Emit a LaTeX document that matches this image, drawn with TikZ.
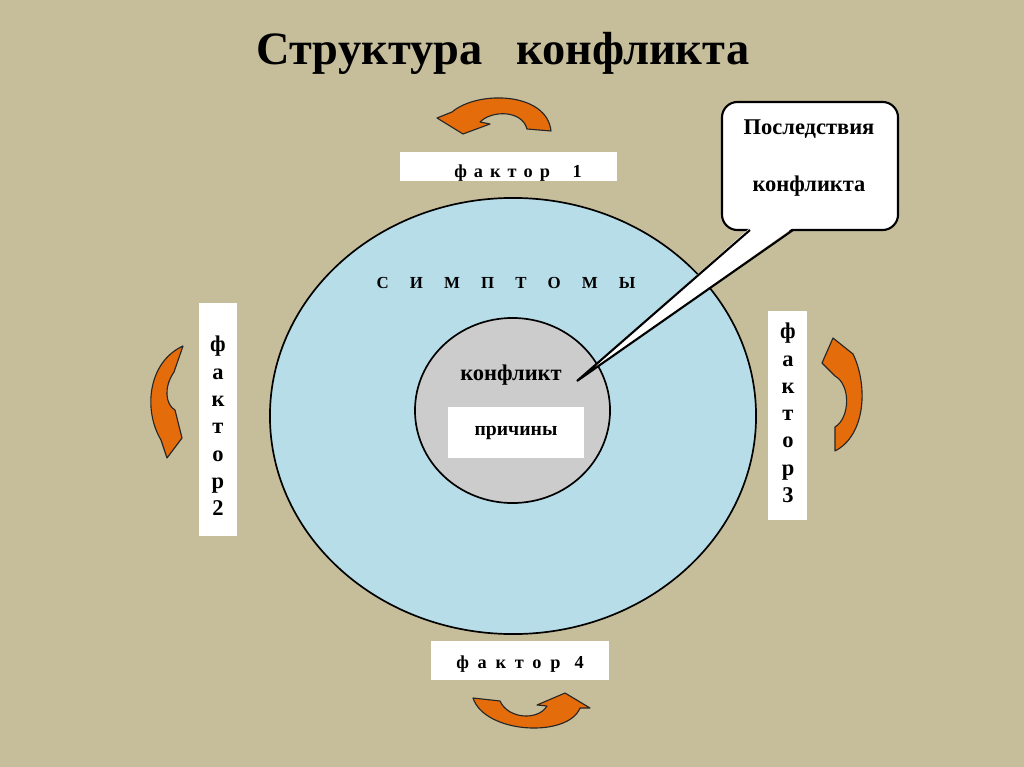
\documentclass[tikz,border=0pt]{standalone}
\usepackage{fontspec}
\setmainfont{Liberation Serif}
\usetikzlibrary{shapes.geometric}

\definecolor{slidebg}{RGB}{198,190,154}
\definecolor{symblue}{RGB}{183,221,232}
\definecolor{coregrey}{RGB}{204,204,204}
\definecolor{turnorange}{RGB}{228,108,10}

\newcommand{\wordgap}[1]{\spaceskip=#1\relax}

\begin{document}
\begin{tikzpicture}[x=0.025cm, y=-0.025cm,
    titletext/.style={font=\bfseries\fontsize{33}{39}\selectfont, anchor=base, inner sep=0pt},
    bodytext/.style={font=\bfseries\fontsize{16}{19}\selectfont, anchor=base, inner sep=0pt},
    factorbox/.style={fill=white, inner sep=0pt},
    vtext/.style={font=\bfseries\fontsize{16}{19.4}\selectfont, align=center, inner sep=0pt},
    turn/.style={fill=turnorange, draw=black!85, line width=0.8pt, line join=round}]

    % Background
    \fill[slidebg] (0,0) rectangle (1024,767);
    \useasboundingbox (0,0) rectangle (1024,767);

    % Title
    \node[titletext] (title) at (503,65) {Структура\hspace{24pt}конфликта};

    % Draw circles
    \node[ellipse, draw, fill=symblue, line width=1.2pt, minimum width=12.15cm, minimum height=10.9cm] (symptoms) at (513,416) {};
    \node[ellipse, draw, fill=coregrey, line width=1.2pt, minimum width=4.875cm, minimum height=4.625cm] (conflict) at (512.5,410.5) {};

    % Texts in circles
    \node[bodytext, font=\bfseries\fontsize{12}{14}\selectfont] (symtext) at (506,288) {\wordgap{15pt}С И М П Т О М Ы};
    \node[bodytext] (conflictlbl) at (511,380) {конфликт};
    \node[factorbox, font=\bfseries\fontsize{14}{17}\selectfont, minimum width=3.4cm, minimum height=1.275cm] (causes) at (516,432.5) {причины};

    % Factor boxes
    \node[factorbox, minimum width=5.425cm, minimum height=0.725cm] (f1box) at (508.5,166.5) {};
    \node[factorbox, minimum width=4.45cm, minimum height=0.975cm] (f4box) at (520,660.5) {};
    \node[factorbox, minimum width=0.95cm, minimum height=5.825cm] (f2box) at (218,419.5) {};
    \node[factorbox, minimum width=0.975cm, minimum height=5.225cm] (f3box) at (787.5,415.5) {};

    \node[bodytext, font=\bfseries\fontsize{13}{16}\selectfont] (f1) at (518,178) {\wordgap{5pt}ф а к т о р\hspace{16pt}1};
    \node[bodytext, font=\bfseries\fontsize{13}{16}\selectfont] (f4) at (520,668) {\wordgap{6.2pt}ф а к т о р\hspace{10pt}4};
    \node[vtext] (f2) at (218,426) {ф\\а\\к\\т\\о\\р\\2};
    \node[vtext] (f3) at (788,413) {ф\\а\\к\\т\\о\\р\\3};

    % Callout
    \node[draw, fill=white, line width=1.5pt, rounded corners=11pt, minimum width=4.4cm, minimum height=3.2cm] (conseq) at (810,166) {};
    \node[bodytext] (conseq1) at (809,135) {Последствия};
    \node[bodytext] (conseq2) at (809,192) {конфликта};
    \coordinate (tip) at (577,381);
    \coordinate (tailL) at (750,230);
    \coordinate (tailR) at (793,230);
    \fill[white] ([yshift=1.6pt]tailL) -- (tip) -- ([yshift=1.6pt]tailR) -- cycle;
    \draw[line width=1.5pt] (tailL) -- (tip) -- (tailR);

    % Curved arrows
    \draw[turn] (551,131) .. controls (547,92) and (478,90) .. (452,112) -- (437,118) -- (463,134) -- (490,124) -- (480,122)
        .. controls (492,110) and (522,110) .. (527,129) -- cycle;
    \draw[turn] (473,698) -- (500,701) .. controls (508,719) and (538,721) .. (547,706) -- (537,705) -- (565,693) -- (590,708) -- (580,708)
        .. controls (568,738) and (485,734) .. (473,698) -- cycle;
    \draw[turn] (183,346) -- (174,372) .. controls (163,388) and (166,405) .. (175,410) -- (182,438) -- (167,458) -- (161,440)
        .. controls (143,410) and (148,362) .. (183,346) -- cycle;
    \draw[turn] (835,451) -- (835,427) .. controls (850,418) and (851,385) .. (835,376) -- (822,363) -- (833,338) -- (853,354)
        .. controls (868,385) and (866,435) .. (835,451) -- cycle;
\end{tikzpicture}
\end{document}
